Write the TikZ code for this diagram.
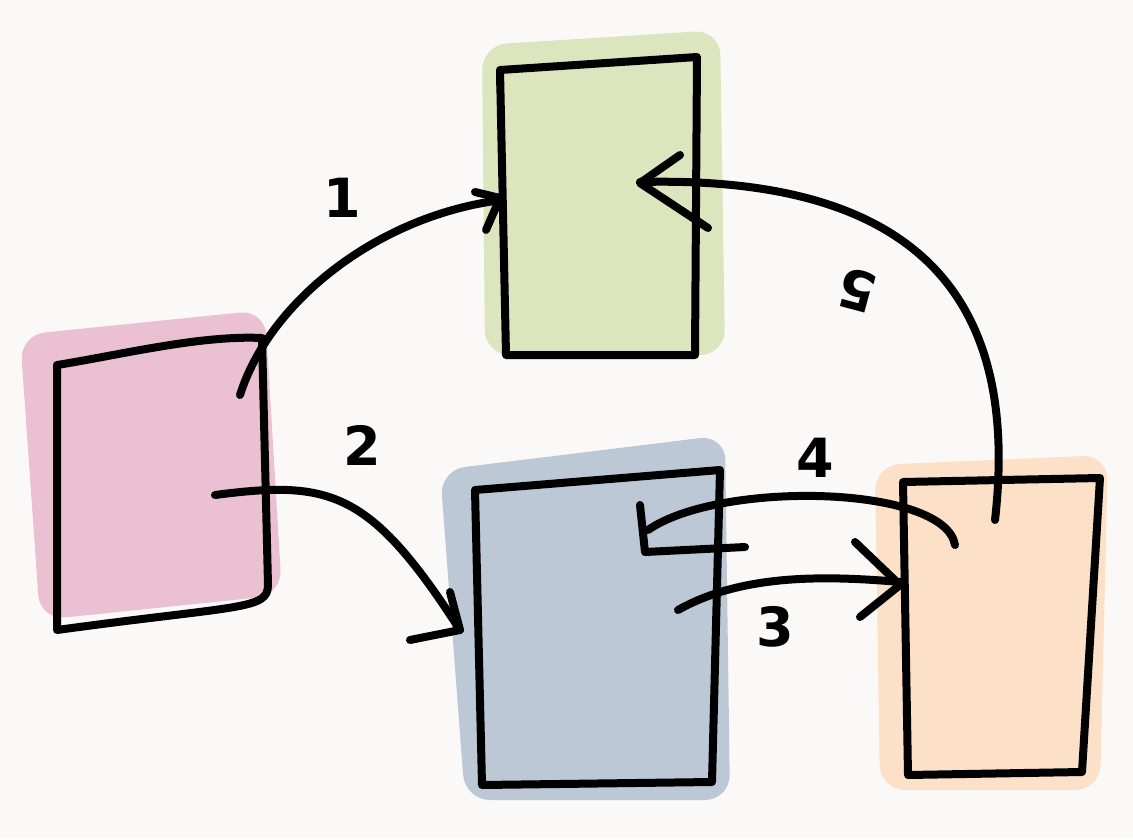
\documentclass[tikz,border=0pt]{standalone}
\usepackage{fontspec}
\setmainfont{DejaVu Sans}
\begin{document}
\begin{tikzpicture}[x=1pt,y=-1pt,line cap=round,line join=round,
  ink/.style={line width=8pt,black},
  lab/.style={font=\fontsize{54}{54}\selectfont\bfseries}]
\definecolor{pinkbg}{HTML}{EBC0D2}
\definecolor{greenbg}{HTML}{DCE6BE}
\definecolor{bluebg}{HTML}{BCC8D6}
\definecolor{orangebg}{HTML}{FCE0C8}
\fill[fill={rgb,255:red,250;green,249;blue,247}] (0,0) rectangle (1133,839);
\useasboundingbox (0,0) rectangle (1133,839);
% backgrounds
\fill[pinkbg,rounded corners=25pt] (20,335) -- (265,310) -- (282,595) -- (40,620) -- cycle;
\fill[greenbg,rounded corners=25pt] (482,45) -- (720,30) -- (725,355) -- (485,355) -- cycle;
\fill[bluebg,rounded corners=25pt] (440,470) -- (725,435) -- (730,800) -- (465,800) -- cycle;
\fill[orangebg,rounded corners=25pt] (875,465) -- (1108,455) -- (1100,790) -- (880,790) -- cycle;
% boxes
\draw[ink] (57,378) -- (57,365) .. controls (120,355) and (200,335) .. (262,338) -- (268,585) .. controls (268,610) and (240,605) .. (57,630) -- cycle;
\draw[ink] (500,85) -- (500,70) -- (697,57) -- (695,355) -- (506,355) -- (500,70);
\draw[ink] (475,490) -- (720,470) -- (712,782) -- (482,785) -- cycle;
\draw[ink] (903,482) -- (1100,478) -- (1082,772) -- (908,775) -- cycle;
% arrows
\coordinate (a1s) at (240,395); \coordinate (a1e) at (502,200);
\draw[ink] (a1s) .. controls (270,300) and (380,215) .. (a1e);
\draw[ink] (475,192) -- (500,198) -- (486,230);
\node[lab] (l1) at (342,198) {1};
\coordinate (a2s) at (215,495); \coordinate (a2e) at (460,630);
\draw[ink] (a2s) .. controls (330,480) and (370,490) .. (a2e);
\draw[ink] (410,640) -- (460,630) -- (450,592);
\node[lab] (l2) at (362,445) {2};
\coordinate (a3s) at (678,610); \coordinate (a3e) at (900,582);
\draw[ink] (a3s) .. controls (740,575) and (820,575) .. (a3e);
\draw[ink] (855,542) -- (900,585) -- (860,617);
\node[lab] (l3) at (775,627) {3};
\coordinate (a4s) at (955,545); \coordinate (a4e) at (648,530);
\draw[ink] (a4s) .. controls (945,485) and (720,480) .. (a4e);
\draw[ink] (640,505) -- (645,552) -- (745,547);
\node[lab] (l4) at (815,458) {4};
\coordinate (a5s) at (995,520); \coordinate (a5e) at (640,182);
\draw[ink] (a5s) .. controls (1020,300) and (920,175) .. (a5e);
\draw[ink] (680,155) -- (640,183) -- (708,228);
\node[lab,rotate=165] (l5) at (857,290) {5};
\end{tikzpicture}
\end{document}
